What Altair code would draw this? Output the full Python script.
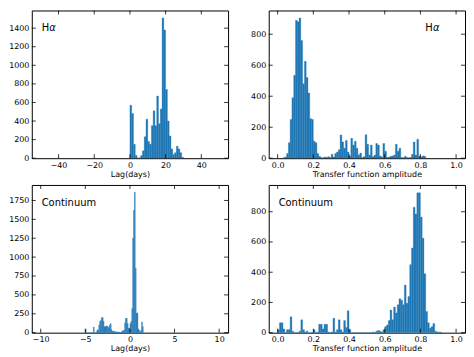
import altair as alt
import pandas as pd

# ---------------- data ----------------
# Panel 1: H-alpha lag histogram (1-day bins starting at these values)
ha_lag_start = list(range(0, 30))
ha_lag_width = 1.0
ha_lag_count = [570, 480, 150, 30, 0, 5, 30, 80, 230, 420,
                180, 150, 350, 510, 350, 670, 370, 530, 1510, 1380,
                740, 400, 240, 100, 40, 60, 130, 100, 60, 10]

# Panel 2: H-alpha transfer function amplitude (0.01 bins, 0.03 .. 0.82)
ha_amp_start = [round(0.03 + 0.01 * i, 2) for i in range(80)]
ha_amp_width = 0.01
ha_amp_count = [3, 8, 30, 100, 250, 390, 535, 890, 880, 905,
                760, 480, 625, 520, 420, 255, 250, 110, 100, 30,
                12, 5, 3, 8, 5, 10, 5, 25, 8, 30,
                40, 55, 150, 105, 65, 115, 40, 15, 128, 85,
                110, 65, 20, 33, 5, 10, 152, 90, 20, 85,
                10, 20, 95, 85, 15, 8, 95, 45, 5, 8,
                12, 15, 20, 90, 45, 65, 5, 3, 12, 5,
                3, 5, 25, 105, 20, 122, 15, 8, 15, 12]

# Panel 3: continuum lag (0.1-day bins, -5.0 .. 1.4)
co_lag_start = [round(-5.0 + 0.1 * i, 1) for i in range(65)]
co_lag_width = 0.1
co_lag_count = [45, 0, 0, 0, 0, 0, 0, 0, 0, 75,
                0, 0, 10, 40, 30, 100, 150, 160, 200, 200,
                150, 80, 80, 90, 90, 70, 70, 100, 120, 40,
                20, 20, 15, 15, 10, 5, 10, 10, 5, 0,
                10, 20, 30, 30, 130, 190, 190, 120, 60, 60,
                120, 150, 320, 1250, 1620, 1860, 850, 260, 260, 50,
                30, 10, 30, 140, 80]

# Panel 4: continuum transfer function amplitude (0.01 bins, 0.00 .. 0.91)
co_amp_start = [round(0.01 * i, 2) for i in range(92)]
co_amp_width = 0.01
co_amp_count = [20, 65, 65, 25, 0, 20, 20, 105, 10, 0,
                0, 0, 10, 85, 20, 5, 10, 0, 0, 0,
                20, 0, 5, 55, 55, 25, 55, 55, 5, 0,
                5, 95, 5, 20, 85, 20, 5, 80, 35, 145,
                20, 0, 0, 0, 0, 0, 0, 0, 0, 0,
                0, 0, 0, 5, 0, 10, 15, 10, 5, 20,
                40, 50, 80, 150, 85, 170, 130, 185, 225, 215,
                185, 315, 195, 240, 450, 560, 830, 785, 925, 925,
                765, 625, 390, 140, 65, 30, 40, 60, 10, 5,
                5, 3]

lag_ticks_ha = [-40, -20, 0, 20, 40]
lag_ticks_co = [-10, -5, 0, 5, 10]
amp_ticks = [0.0, 0.2, 0.4, 0.6, 0.8, 1.0]
y_ticks_ha_lag = [0, 200, 400, 600, 800, 1000, 1200, 1400]
y_ticks_amp = [0, 200, 400, 600, 800]
y_ticks_co_lag = [0, 250, 500, 750, 1000, 1250, 1500, 1750]

# ---------------- styling ----------------
FONT = "DejaVu Sans"
W, H = 198, 149
TICK = 4
BLUE = "#1f77b4"


def panel(starts, width, counts, xdom, ydom, xticks, yticks, xfmt, xtitle,
          label, label_x, italic_alpha=False):
    df = pd.DataFrame({"start": starts, "count": counts})
    df["end"] = df["start"] + width
    df["zero"] = 0
    xs = alt.Scale(domain=xdom, nice=False, zero=False)
    ys = alt.Scale(domain=ydom, nice=False, zero=False)
    xax = alt.Axis(values=xticks, format=xfmt, title=xtitle, ticks=False,
                   grid=False, domain=False, labelPadding=3, titlePadding=1,
                   labelFlush=False)
    yax = alt.Axis(values=yticks, format="d", title=None, ticks=False, grid=False,
                   domain=False, labelPadding=3, labelFlush=False)
    bars = alt.Chart(df).mark_rect(color=BLUE, stroke=BLUE, strokeWidth=0.3, clip=True).encode(
        x=alt.X("start:Q", scale=xs, axis=xax),
        x2="end:Q",
        y=alt.Y("count:Q", scale=ys, axis=yax),
        y2="zero:Q",
    )
    xt = pd.DataFrame({"start": xticks})
    yt = pd.DataFrame({"count": yticks})
    bot = alt.Chart(xt).mark_rule(color="black", strokeWidth=0.8).encode(
        x=alt.X("start:Q", scale=xs, axis=xax), y=alt.value(H), y2=alt.value(H - TICK))
    top = alt.Chart(xt).mark_rule(color="black", strokeWidth=0.8).encode(
        x=alt.X("start:Q", scale=xs, axis=xax), y=alt.value(0), y2=alt.value(TICK))
    left = alt.Chart(yt).mark_rule(color="black", strokeWidth=0.8).encode(
        y=alt.Y("count:Q", scale=ys, axis=yax), x=alt.value(0), x2=alt.value(TICK))
    right = alt.Chart(yt).mark_rule(color="black", strokeWidth=0.8).encode(
        y=alt.Y("count:Q", scale=ys, axis=yax), x=alt.value(W), x2=alt.value(W - TICK))
    layers = [bars, bot, top, left, right]
    if italic_alpha:
        h = alt.Chart(pd.DataFrame({"s": ["H"]})).mark_text(
            font=FONT, fontSize=10, align="left", baseline="middle", color="black"
        ).encode(text="s:N", x=alt.value(label_x), y=alt.value(18))
        a = alt.Chart(pd.DataFrame({"s": ["α"]})).mark_text(
            font=FONT, fontSize=10, fontStyle="italic", align="left", baseline="middle", color="black"
        ).encode(text="s:N", x=alt.value(label_x + 7.6), y=alt.value(18))
        layers += [h, a]
    else:
        t = alt.Chart(pd.DataFrame({"s": [label]})).mark_text(
            font=FONT, fontSize=10, align="left", baseline="middle", color="black"
        ).encode(text="s:N", x=alt.value(label_x), y=alt.value(18))
        layers.append(t)
    return alt.layer(*layers).properties(width=W, height=H)


p1 = panel(ha_lag_start, ha_lag_width, ha_lag_count, [-55, 55], [0, 1590],
           lag_ticks_ha, y_ticks_ha_lag, "d", "Lag(days)", "Hα", 10, italic_alpha=True)
p2 = panel(ha_amp_start, ha_amp_width, ha_amp_count, [-0.05, 1.05], [0, 953],
           amp_ticks, y_ticks_amp, ".1f", "Transfer function amplitude", "Hα", 158,
           italic_alpha=True)
p3 = panel(co_lag_start, co_lag_width, co_lag_count, [-11, 11], [0, 1955],
           lag_ticks_co, y_ticks_co_lag, "d", "Lag(days)", "Continuum", 10)
p4 = panel(co_amp_start, co_amp_width, co_amp_count, [-0.05, 1.05], [0, 977],
           amp_ticks, y_ticks_amp, ".1f", "Transfer function amplitude", "Continuum", 10)

chart = alt.vconcat(
    alt.hconcat(p1, p2, spacing=21),
    alt.hconcat(p3, p4, spacing=21),
    spacing=5,
).properties(padding=0).configure_view(
    stroke="black", strokeWidth=1
).configure_axis(
    labelFont=FONT, titleFont=FONT, labelFontSize=8, titleFontSize=8,
    labelColor="black", titleColor="black", titleFontWeight="normal"
)

chart.save("out.html", embed_options={"renderer": "svg", "actions": False})
